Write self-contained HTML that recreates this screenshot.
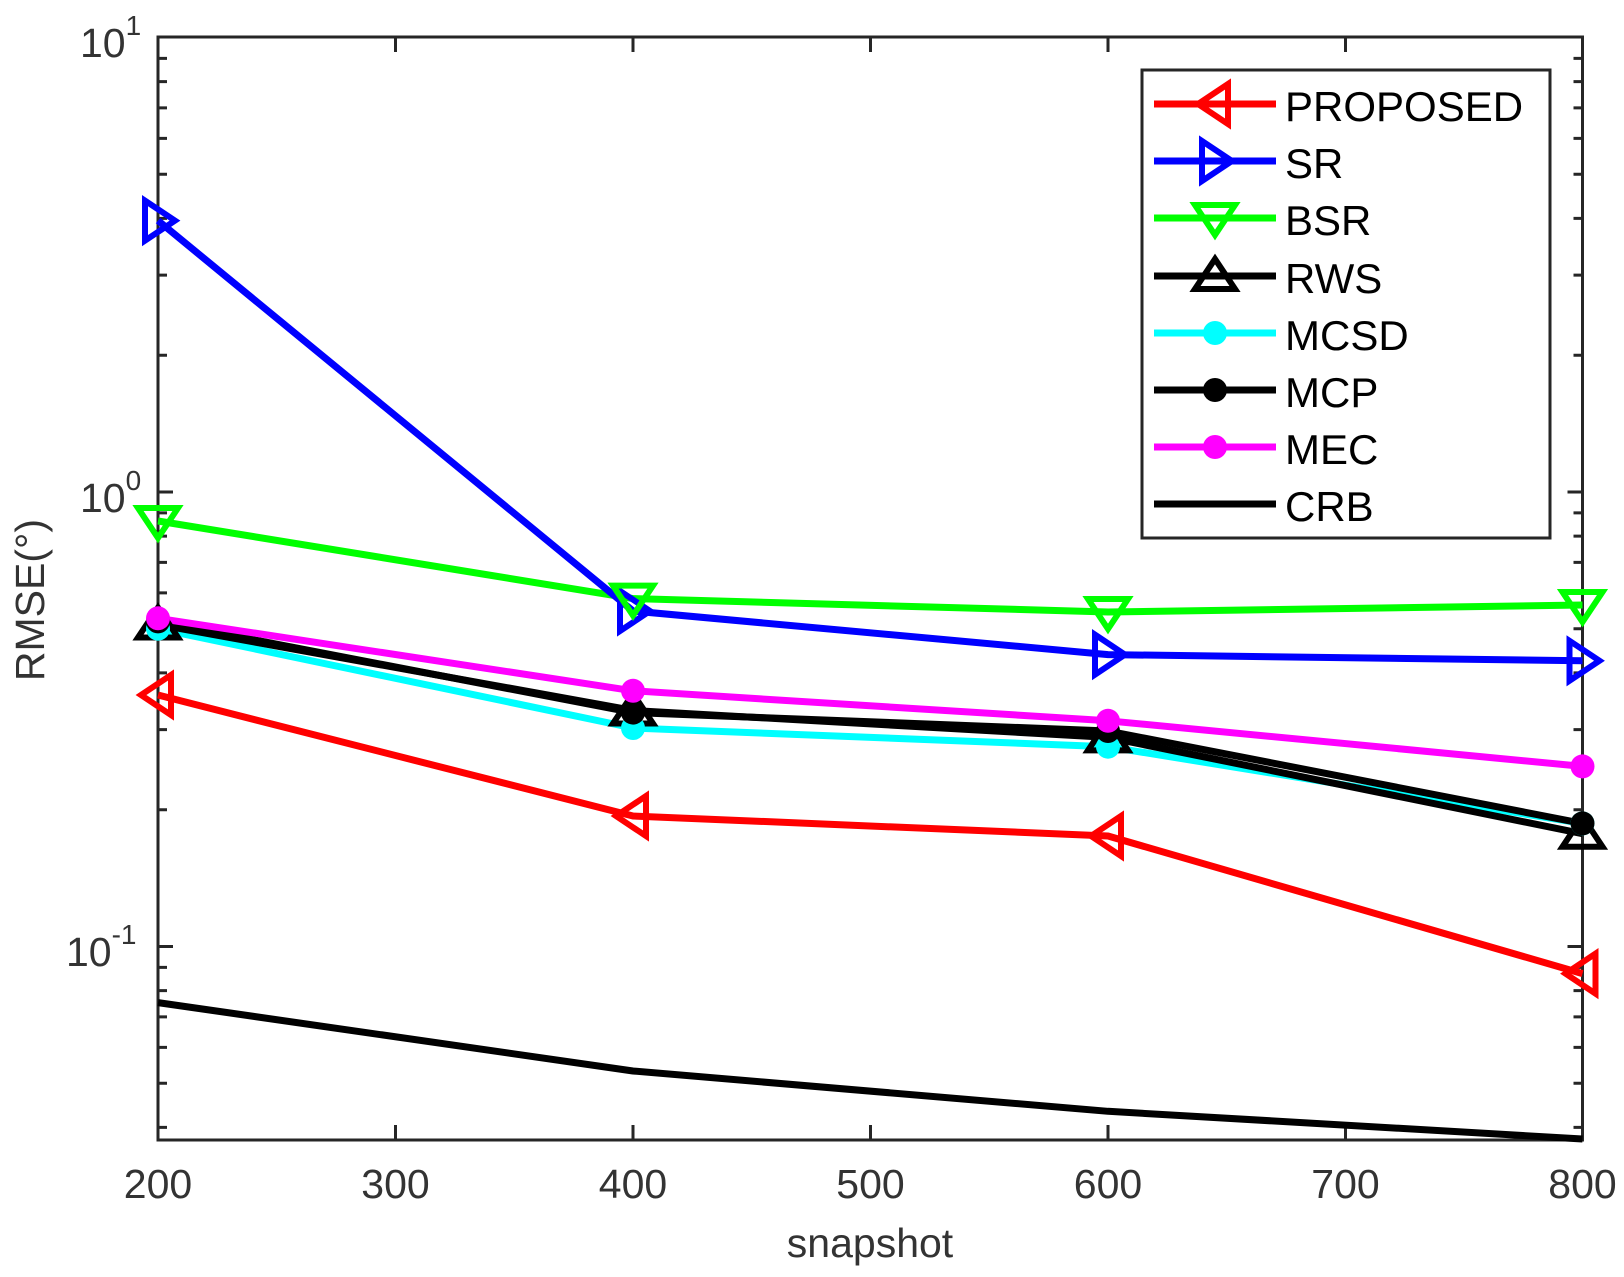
<!DOCTYPE html>
<html><head><meta charset="utf-8"><style>
html,body{margin:0;padding:0;background:#fff;}
svg{display:block;font-family:"Liberation Sans",Arial,sans-serif;}
</style></head><body>
<svg width="1624" height="1277" viewBox="0 0 1624 1277" xmlns="http://www.w3.org/2000/svg">
<rect width="1624" height="1277" fill="#fff"/>
<g stroke="#262626" stroke-width="3" fill="none">
<rect x="158" y="37" width="1424.5" height="1103"/>
<path d="M395.5 1140v-15M633 1140v-15M870.5 1140v-15M1108 1140v-15M1345.5 1140v-15M395.5 37v15M633 37v15M870.5 37v15M1108 37v15M1345.5 37v15"/>
<path d="M158 492h15M158 946.5h15M1582.5 492h-15M1582.5 946.5h-15"/>
<path d="M158 355.2h9M158 275.1h9M158 218.4h9M158 174.3h9M158 138.4h9M158 107.9h9M158 81.6h9M158 58.4h9
M158 809.7h9M158 729.6h9M158 672.9h9M158 628.8h9M158 592.9h9M158 562.4h9M158 536.1h9M158 512.9h9
M158 1127.4h9M158 1083.3h9M158 1047.4h9M158 1016.9h9M158 990.6h9M158 967.4h9
M1582.5 355.2h-9M1582.5 275.1h-9M1582.5 218.4h-9M1582.5 174.3h-9M1582.5 138.4h-9M1582.5 107.9h-9M1582.5 81.6h-9M1582.5 58.4h-9
M1582.5 809.7h-9M1582.5 729.6h-9M1582.5 672.9h-9M1582.5 628.8h-9M1582.5 592.9h-9M1582.5 562.4h-9M1582.5 536.1h-9M1582.5 512.9h-9
M1582.5 1127.4h-9M1582.5 1083.3h-9M1582.5 1047.4h-9M1582.5 1016.9h-9M1582.5 990.6h-9M1582.5 967.4h-9"/>
</g>
<g fill="#333" font-size="41">
<text x="158" y="1198" text-anchor="middle">200</text>
<text x="395.5" y="1198" text-anchor="middle">300</text>
<text x="633" y="1198" text-anchor="middle">400</text>
<text x="870.5" y="1198" text-anchor="middle">500</text>
<text x="1108" y="1198" text-anchor="middle">600</text>
<text x="1345.5" y="1198" text-anchor="middle">700</text>
<text x="1582.5" y="1198" text-anchor="middle">800</text>
<text x="870" y="1257" text-anchor="middle">snapshot</text>
<text x="80" y="57">10<tspan font-size="28" dy="-22">1</tspan></text>
<text x="80" y="512">10<tspan font-size="28" dy="-22">0</tspan></text>
<text x="66" y="966">10<tspan font-size="28" dy="-22">-1</tspan></text>
<text transform="translate(44 600) rotate(-90)" text-anchor="middle">RMSE(°)</text>
</g>
<g fill="none" stroke-width="7" stroke-linejoin="round">
<polyline stroke="#000" points="158,1002.6 633,1071 1108,1111.3 1582.5,1139"/>
<polyline stroke="#ff0000" points="158,695 633,816 1108,836 1582.5,973.6"/>
<polyline stroke="#00ff00" points="158,521 633,598.6 1108,612 1582.5,605"/>
<polyline stroke="#0000ff" points="158,220.6 633,611 1108,654.6 1582.5,660.8"/>
<polyline stroke="#00ffff" points="158,628.7 633,728 1108,746.7 1582.5,823.4"/>
<polyline stroke="#000" points="158,624.5 633,710.5 1108,737.4 1582.5,833.7"/>
<polyline stroke="#000" points="158,621.4 633,712.6 1108,731 1582.5,823.4"/>
<polyline stroke="#ff00ff" points="158,618.3 633,690.8 1108,720.8 1582.5,766.4"/>
</g>
<defs>
<path id="tl" d="M-17 0L13 -20V20Z"/>
<path id="tr" d="M17 0L-13 -20V20Z"/>
<path id="td" d="M0 17L-20 -13H20Z"/>
<path id="tu" d="M0 -17L-20 13H20Z"/>
</defs>
<g fill="none" stroke-width="6">
<g stroke="#ff0000"><use href="#tl" x="158" y="695"/><use href="#tl" x="633" y="816"/><use href="#tl" x="1108" y="836"/><use href="#tl" x="1582.5" y="973.6"/></g>
<g stroke="#0000ff"><use href="#tr" x="158" y="220.6"/><use href="#tr" x="633" y="611"/><use href="#tr" x="1108" y="654.6"/><use href="#tr" x="1582.5" y="660.8"/></g>
<g stroke="#00ff00"><use href="#td" x="158" y="521"/><use href="#td" x="633" y="598.6"/><use href="#td" x="1108" y="612"/><use href="#td" x="1582.5" y="605"/></g>
<g stroke="#000"><use href="#tu" x="158" y="624.5"/><use href="#tu" x="633" y="710.5"/><use href="#tu" x="1108" y="737.4"/><use href="#tu" x="1582.5" y="833.7"/></g>
</g>
<g fill="#00ffff"><circle cx="158" cy="628.7" r="12"/><circle cx="633" cy="728" r="12"/><circle cx="1108" cy="746.7" r="12"/><circle cx="1582.5" cy="823.4" r="12"/></g>
<g fill="#000"><circle cx="158" cy="621.4" r="12"/><circle cx="633" cy="712.6" r="12"/><circle cx="1108" cy="731" r="12"/><circle cx="1582.5" cy="823.4" r="12"/></g>
<g fill="#ff00ff"><circle cx="158" cy="618.3" r="12"/><circle cx="633" cy="690.8" r="12"/><circle cx="1108" cy="720.8" r="12"/><circle cx="1582.5" cy="766.4" r="12"/></g>
<rect x="1142" y="70" width="408" height="468" fill="#fff" stroke="#262626" stroke-width="3"/>
<g stroke-width="7">
<line x1="1154" y1="104" x2="1276" y2="104" stroke="#ff0000"/>
<line x1="1154" y1="161" x2="1276" y2="161" stroke="#0000ff"/>
<line x1="1154" y1="218" x2="1276" y2="218" stroke="#00ff00"/>
<line x1="1154" y1="276" x2="1276" y2="276" stroke="#000"/>
<line x1="1154" y1="333" x2="1276" y2="333" stroke="#00ffff"/>
<line x1="1154" y1="390" x2="1276" y2="390" stroke="#000"/>
<line x1="1154" y1="447" x2="1276" y2="447" stroke="#ff00ff"/>
<line x1="1154" y1="504" x2="1276" y2="504" stroke="#000"/>
</g>
<g fill="none" stroke-width="6">
<use href="#tl" x="1215" y="104" stroke="#ff0000"/>
<use href="#tr" x="1215" y="161" stroke="#0000ff"/>
<use href="#td" x="1215" y="218" stroke="#00ff00"/>
<use href="#tu" x="1215" y="276" stroke="#000"/>
</g>
<circle cx="1215" cy="333" r="12" fill="#00ffff"/>
<circle cx="1215" cy="390" r="12" fill="#000"/>
<circle cx="1215" cy="447" r="12" fill="#ff00ff"/>
<g fill="#000" font-size="42">
<text x="1285" y="121">PROPOSED</text>
<text x="1285" y="178">SR</text>
<text x="1285" y="235">BSR</text>
<text x="1285" y="293">RWS</text>
<text x="1285" y="350">MCSD</text>
<text x="1285" y="407">MCP</text>
<text x="1285" y="464">MEC</text>
<text x="1285" y="521">CRB</text>
</g>
</svg>
</body></html>
